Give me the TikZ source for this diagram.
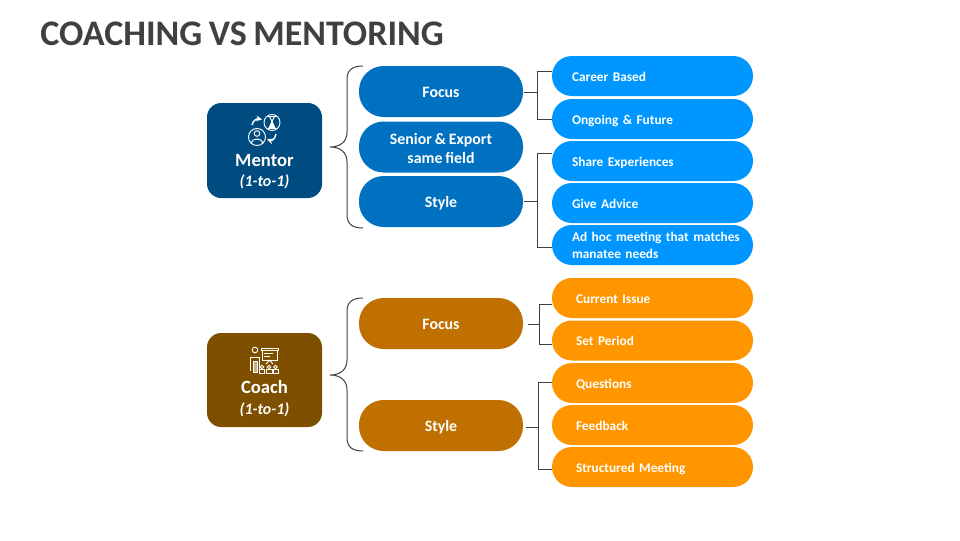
\documentclass[tikz,border=0pt]{standalone}
\usepackage{fontspec}
\setmainfont[WordSpace=0.8]{Carlito}
\definecolor{titlec}{HTML}{404040}
\definecolor{linec}{HTML}{404040}
\definecolor{mentord}{HTML}{004C80}
\definecolor{mentorm}{HTML}{0070C0}
\definecolor{mentorl}{HTML}{0096FF}
\definecolor{coachd}{HTML}{7F4F00}
\definecolor{coachm}{HTML}{BF7000}
\definecolor{coachl}{HTML}{FF9600}
\newcommand{\topstrut}[1]{\rule{0pt}{#1}}
\newcommand{\botstrut}[1]{\rule[-#1]{0pt}{1pt}}
\tikzset{
 x=0.75pt,y=-0.75pt,
 head/.style={rounded corners=10.7pt,minimum width=115*0.75pt,inner sep=0pt,text=white,align=center},
 mid/.style={rounded corners=18.5pt,minimum width=164*0.75pt,minimum height=51*0.75pt,inner sep=0pt,text=white,font=\fontsize{11.9pt}{14.2pt}\selectfont\bfseries,align=center,execute at begin node=\topstrut{12.7pt},execute at end node=\botstrut{4.3pt}},
 leaf/.style={rounded corners=14.9pt,minimum width=201*0.75pt,minimum height=40*0.75pt,inner sep=0pt,text=white,font=\fontsize{10pt}{12.75pt}\selectfont\bfseries,align=left,text width=190*0.75pt,execute at begin node={\leftskip=#1\topstrut{11.4pt}},execute at end node=\botstrut{3.8pt}},
 wire/.style={draw=linec,line width=0.75pt},
 brace/.style={draw=linec,line width=0.75pt},
 ico/.style={draw=white,line width=0.7pt},
}
\newcommand{\headtext}[1]{{\fontsize{14pt}{17pt}\selectfont\bfseries #1}\\[3.5pt]{\fontsize{12pt}{15pt}\selectfont\bfseries\itshape (1-to-1)}}
\begin{document}
\begin{tikzpicture}
\useasboundingbox (0,0) rectangle (960,540);
\node[anchor=west,text=titlec,font=\fontsize{27pt}{30pt}\selectfont\bfseries,inner sep=0pt] (title) at (40,34) {COACHING VS MENTORING};

% Mentor
\node[head,fill=mentord,minimum height=95*0.75pt] (mentor) at (264.5,150.5) {};
\node[text=white,align=center,inner sep=0pt] (mentorlab) at (264.5,171.5) {\headtext{Mentor}};
\node[mid,fill=mentorm] (mfocus) at (441,91.5) {Focus};
\node[mid,fill=mentorm] (msenior) at (441,147) {\rule{0pt}{15pt}Senior \& Export\\same field};
\node[mid,fill=mentorm] (mstyle) at (441,201.5) {Style};
\node[leaf=10.9pt,fill=mentorl] (l1) at (652.5,76) {Career Based};
\node[leaf=10.9pt,fill=mentorl] (l2) at (652.5,119) {Ongoing \& Future};
\node[leaf=10.9pt,fill=mentorl] (l3) at (652.5,161) {Share Experiences};
\node[leaf=10.9pt,fill=mentorl] (l4) at (652.5,203) {Give Advice};
\node[leaf=10.9pt,fill=mentorl] (l5) at (652.5,245) {Ad hoc meeting that matches\\manatee needs};

% Coach
\node[head,fill=coachd,minimum height=94*0.75pt] (coach) at (264.5,380) {};
\node[text=white,align=center,inner sep=0pt] (coachlab) at (264.5,398.5) {\headtext{Coach}};
\node[mid,fill=coachm] (cfocus) at (441,323.5) {Focus};
\node[mid,fill=coachm] (cstyle) at (441,425.5) {Style};
\node[leaf=13.9pt,fill=coachl] (k1) at (652.5,298) {Current Issue};
\node[leaf=13.9pt,fill=coachl] (k2) at (652.5,340.5) {Set Period};
\node[leaf=13.9pt,fill=coachl] (k3) at (652.5,383) {Questions};
\node[leaf=13.9pt,fill=coachl] (k4) at (652.5,425) {Feedback};
\node[leaf=13.9pt,fill=coachl] (k5) at (652.5,467) {Structured Meeting};

% Braces
\coordinate (bm) at (330,147);
\coordinate (bc) at (330,375);
\draw[brace] (363,66) .. controls (352,66) and (347,70) .. (347,80) -- (347,132)
  .. controls (347,142) and (340,147) .. (bm)
  .. controls (340,147) and (347,152) .. (347,162) -- (347,214)
  .. controls (347,224) and (352,228) .. (363,228);
\draw[brace] (363,298) .. controls (352,298) and (347,302) .. (347,312) -- (347,360)
  .. controls (347,370) and (340,375) .. (bc)
  .. controls (340,375) and (347,380) .. (347,390) -- (347,437)
  .. controls (347,447) and (352,451) .. (363,451);

% Brackets
\draw[wire] ([xshift=0.75pt]mfocus.east |- 0,92) -- (537,92);
\draw[wire] (l1.west |- 0,71) -| (537,119) -- (l2.west);
\draw[wire] ([xshift=0.75pt]mstyle.east |- 0,201) -- (537,201);
\draw[wire] (l3.west |- 0,153) -| (537,247) -- (l5.west |- 0,247);
\draw[wire] ([xshift=3.75pt]cfocus.east |- 0,324) -- (539,324);
\draw[wire] (k1.west |- 0,304) -| (539,344) -- (k2.west |- 0,344);
\draw[wire] ([xshift=2.25pt]cstyle.east |- 0,427) -- (538,427);
\draw[wire] (k3.west |- 0,382) -| (538,469) -- (k5.west |- 0,469);

% Mentor icon
\draw[ico] (257,137) circle (8.5);
\draw[ico] (272,122.5) circle (8);
\draw[ico] (257,133.5) circle (2.8);
\draw[ico] (251,143.5) .. controls (251,137.5) and (263,137.5) .. (263,143.5);
\draw[ico] (268,116.5) -- (276,116.5) (268,128) -- (276,128);
\draw[ico] (269.5,116.5) -- (272,121.5) -- (274.5,116.5);
\draw[ico,fill=white] (272,121.5) -- (269,128) -- (275,128) -- cycle;
\draw[ico,line width=1pt,-stealth] (252,125) .. controls (253,120) and (257,118.5) .. (262,119.5);
\draw[ico,line width=1pt,-stealth] (276,134) .. controls (275,139) and (272,141) .. (267,139.5);

% Coach icon
\draw[ico] (255,350) circle (2.8);
\draw[ico] (250.5,371) -- (250.5,357) -- (259.5,357) -- (259.5,371);
\draw[ico,fill=white,fill opacity=0.55] (253,361) rectangle (257,372);
\draw[ico] (261,348) rectangle (278,350);
\draw[ico] (262,350) rectangle (277,360);
\draw[ico,line width=1pt] (264,353.5) -- (273,353.5) (264,356.5) -- (270,356.5);
\draw[ico] (269.5,360) -- (266,364) (269.5,360) -- (273,364);
\draw[ico] (262,367) circle (1.7) (269,367) circle (1.7) (275.5,367) circle (1.7);
\draw[ico] (259.5,373) rectangle (264.5,369.5) (266.5,373) rectangle (272,369.5) (273,373) rectangle (278,369.5);
\end{tikzpicture}
\end{document}
